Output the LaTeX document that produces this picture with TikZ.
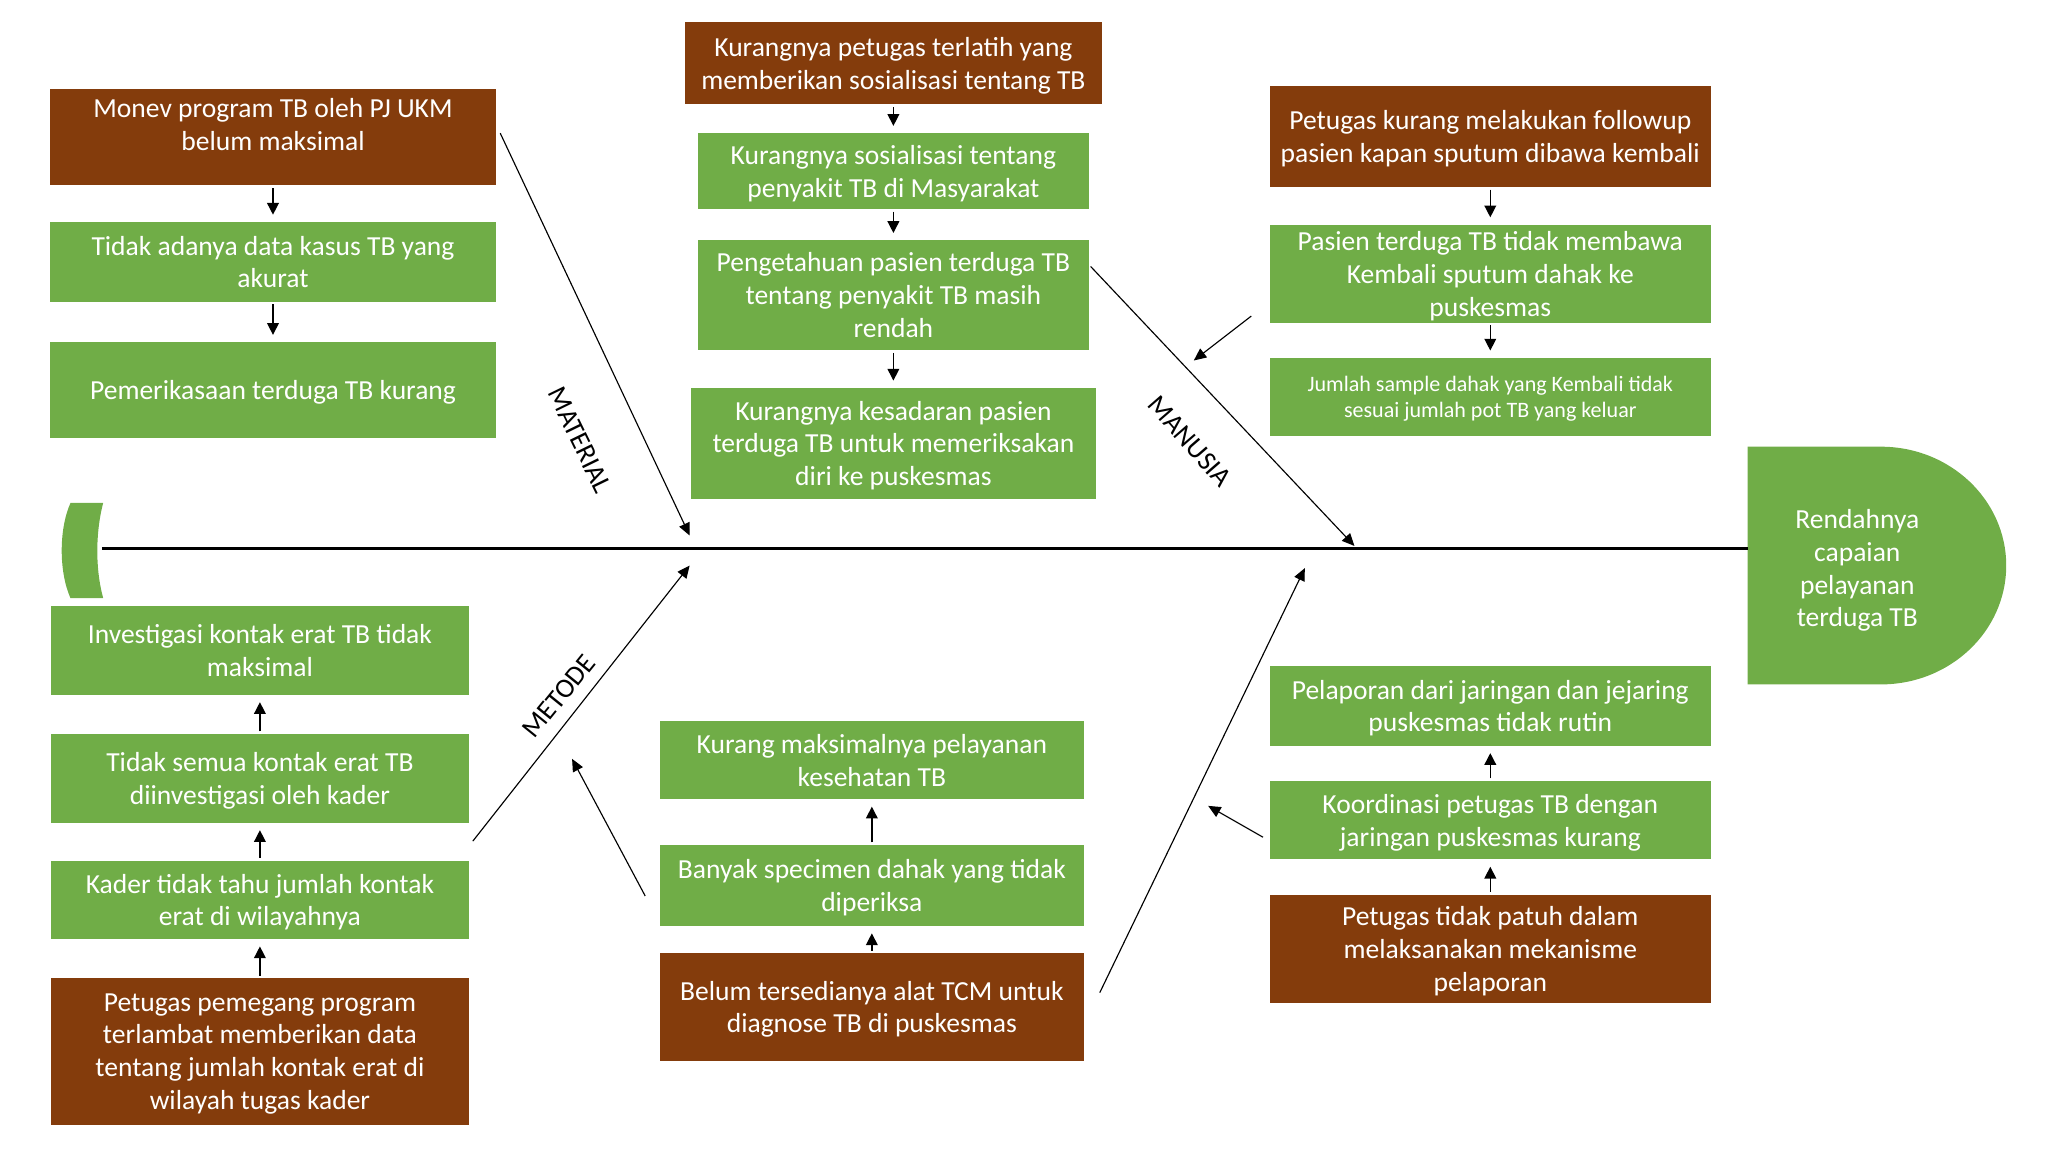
\documentclass[tikz,border=0pt]{standalone}
\usepackage{fontspec}
\setmainfont{Carlito}
\usetikzlibrary{arrows.meta}
\definecolor{fbgreen}{RGB}{112,173,71}
\definecolor{fbbrown}{RGB}{132,60,12}

\begin{document}
\begin{tikzpicture}[x=0.2mm,y=-0.2mm,
  cause/.style={fill=fbgreen,text=white,align=center,inner sep=0pt,
    font=\fontsize{12}{14.3}\selectfont,text depth=-3pt},
  rootcause/.style={cause,fill=fbbrown},
  link/.style={-{Triangle[length=1.8mm,width=1.8mm]},line width=0.6pt,shorten <=1pt,shorten >=3pt},
  bone/.style={-{Triangle[length=1.9mm,width=1.7mm]},line width=0.5pt},
  spine/.style={line width=1.4pt},
  category/.style={font=\fontsize{12}{14}\selectfont}]
  \useasboundingbox (0,0) rectangle (1568,882);

  \node[rootcause,minimum width=68.4mm,minimum height=14.8mm,text depth=11.4pt] (A1) at (209,105) {Monev program TB oleh PJ UKM\\belum maksimal};
  \node[cause,minimum width=68.4mm,minimum height=12.2mm] (A2) at (209,200.5) {Tidak adanya data kasus TB yang\\akurat};
  \node[cause,minimum width=68.4mm,minimum height=14.6mm] (A3) at (209,298.5) {Pemerikasaan terduga TB kurang};

  \node[rootcause,minimum width=63.8mm,minimum height=12.6mm] (B1) at (684,48.5) {Kurangnya petugas terlatih yang\\memberikan sosialisasi tentang TB};
  \node[cause,minimum width=59.8mm,minimum height=11.6mm] (B2) at (684,131) {Kurangnya sosialisasi tentang\\penyakit TB di Masyarakat};
  \node[cause,minimum width=59.8mm,minimum height=16.8mm] (B3) at (684,226) {Pengetahuan pasien terduga TB\\tentang penyakit TB masih\\rendah};
  \node[cause,minimum width=62mm,minimum height=17mm] (B4) at (684,339.5) {Kurangnya kesadaran pasien\\terduga TB untuk memeriksakan\\diri ke puskesmas};

  \node[rootcause,minimum width=67.6mm,minimum height=15.4mm] (C1) at (1141,104.5) {Petugas kurang melakukan followup\\pasien kapan sputum dibawa kembali};
  \node[cause,minimum width=67.6mm,minimum height=15mm] (C2) at (1141,209.5) {Pasien terduga TB tidak membawa\\Kembali sputum dahak ke\\puskesmas};
  \node[cause,minimum width=67.6mm,minimum height=12mm,font=\fontsize{9.6}{11.4}\selectfont,text depth=0pt] (C3) at (1141,304) {Jumlah sample dahak yang Kembali tidak\\sesuai jumlah pot TB yang keluar};

  \node[cause,minimum width=64mm,minimum height=13.6mm] (D1) at (199,498) {Investigasi kontak erat TB tidak\\maksimal};
  \node[cause,minimum width=64mm,minimum height=13.6mm] (D2) at (199,596) {Tidak semua kontak erat TB\\diinvestigasi oleh kader};
  \node[cause,minimum width=64mm,minimum height=12mm] (D3) at (199,689) {Kader tidak tahu jumlah kontak\\erat di wilayahnya};
  \node[rootcause,minimum width=64mm,minimum height=22.4mm] (D4) at (199,805) {Petugas pemegang program\\terlambat memberikan data\\tentang jumlah kontak erat di\\wilayah tugas kader};

  \node[cause,minimum width=65mm,minimum height=12mm] (E1) at (667.5,582) {Kurang maksimalnya pelayanan\\kesehatan TB};
  \node[cause,minimum width=65mm,minimum height=12.4mm] (E2) at (667.5,678) {Banyak specimen dahak yang tidak\\diperiksa};
  \node[rootcause,minimum width=65mm,minimum height=16.4mm] (E3) at (667.5,771) {Belum tersedianya alat TCM untuk\\diagnose TB di puskesmas};

  \node[cause,minimum width=67.6mm,minimum height=12.2mm] (F1) at (1141,540.5) {Pelaporan dari jaringan dan jejaring\\puskesmas tidak rutin};
  \node[cause,minimum width=67.6mm,minimum height=12mm] (F2) at (1141,628) {Koordinasi petugas TB dengan\\jaringan puskesmas kurang};
  \node[rootcause,minimum width=67.6mm,minimum height=16.6mm] (F3) at (1141,726.5) {Petugas tidak patuh dalam\\melaksanakan mekanisme\\pelaporan};

  \fill[fbgreen] (79,385) .. controls (73,408) and (73,436) .. (79,458) -- (54,458)
    .. controls (45,438) and (45,405) .. (54,385) -- cycle;
  \fill[fbgreen] (1338,342) -- (1440,342) arc[start angle=90,end angle=-90,x radius=19.2mm,y radius=18.2mm] -- (1338,524) -- cycle;
  \node[cause,fill=none,text depth=0pt] (effect) at (1422,435) {Rendahnya\\capaian\\pelayanan\\terduga TB};

  \coordinate (tailEnd) at (78,420);
  \coordinate (headStart) at (1338,420);
  \draw[spine] (tailEnd) -- (headStart);

  \coordinate (matStart) at (383,102);
  \coordinate (matTip) at (528,410);
  \coordinate (manStart) at (835,204);
  \coordinate (manTip) at (1037,418);
  \coordinate (metStart) at (362,644);
  \coordinate (metTip) at (528,433);
  \coordinate (alatStart) at (842,760);
  \coordinate (alatTip) at (999,435);
  \draw[bone] (matStart) -- (matTip);
  \draw[bone] (manStart) -- (manTip);
  \draw[bone] (metStart) -- (metTip);
  \draw[bone] (alatStart) -- (alatTip);

  \coordinate (cOut) at (958,242);
  \coordinate (cIn) at (914,276);
  \coordinate (eOut) at (494,686);
  \coordinate (eIn) at (438,581);
  \coordinate (fOut) at (967,641);
  \coordinate (fIn) at (925,617);
  \draw[bone] (cOut) -- (cIn);
  \draw[bone] (eOut) -- (eIn);
  \draw[bone] (fOut) -- (fIn);

  \node[category,rotate=-64] (material) at (444,337) {MATERIAL};
  \node[category,rotate=-49] (manusia) at (911,338) {MANUSIA};
  \node[category,rotate=51] (metode) at (428,533) {METODE};

  \draw[link] (A1) -- (A2);
  \draw[link] (A2) -- (A3);
  \draw[link] (B1) -- (B2);
  \draw[link] (B2) -- (B3);
  \draw[link] (B3) -- (B4);
  \draw[link] (C1) -- (C2);
  \draw[link] (C2) -- (C3);
  \draw[link] (D2) -- (D1);
  \draw[link] (D3) -- (D2);
  \draw[link] (D4) -- (D3);
  \draw[link] (E2) -- (E1);
  \draw[link] (E3) -- (E2);
  \draw[link] (F2) -- (F1);
  \draw[link] (F3) -- (F2);
\end{tikzpicture}
\end{document}
